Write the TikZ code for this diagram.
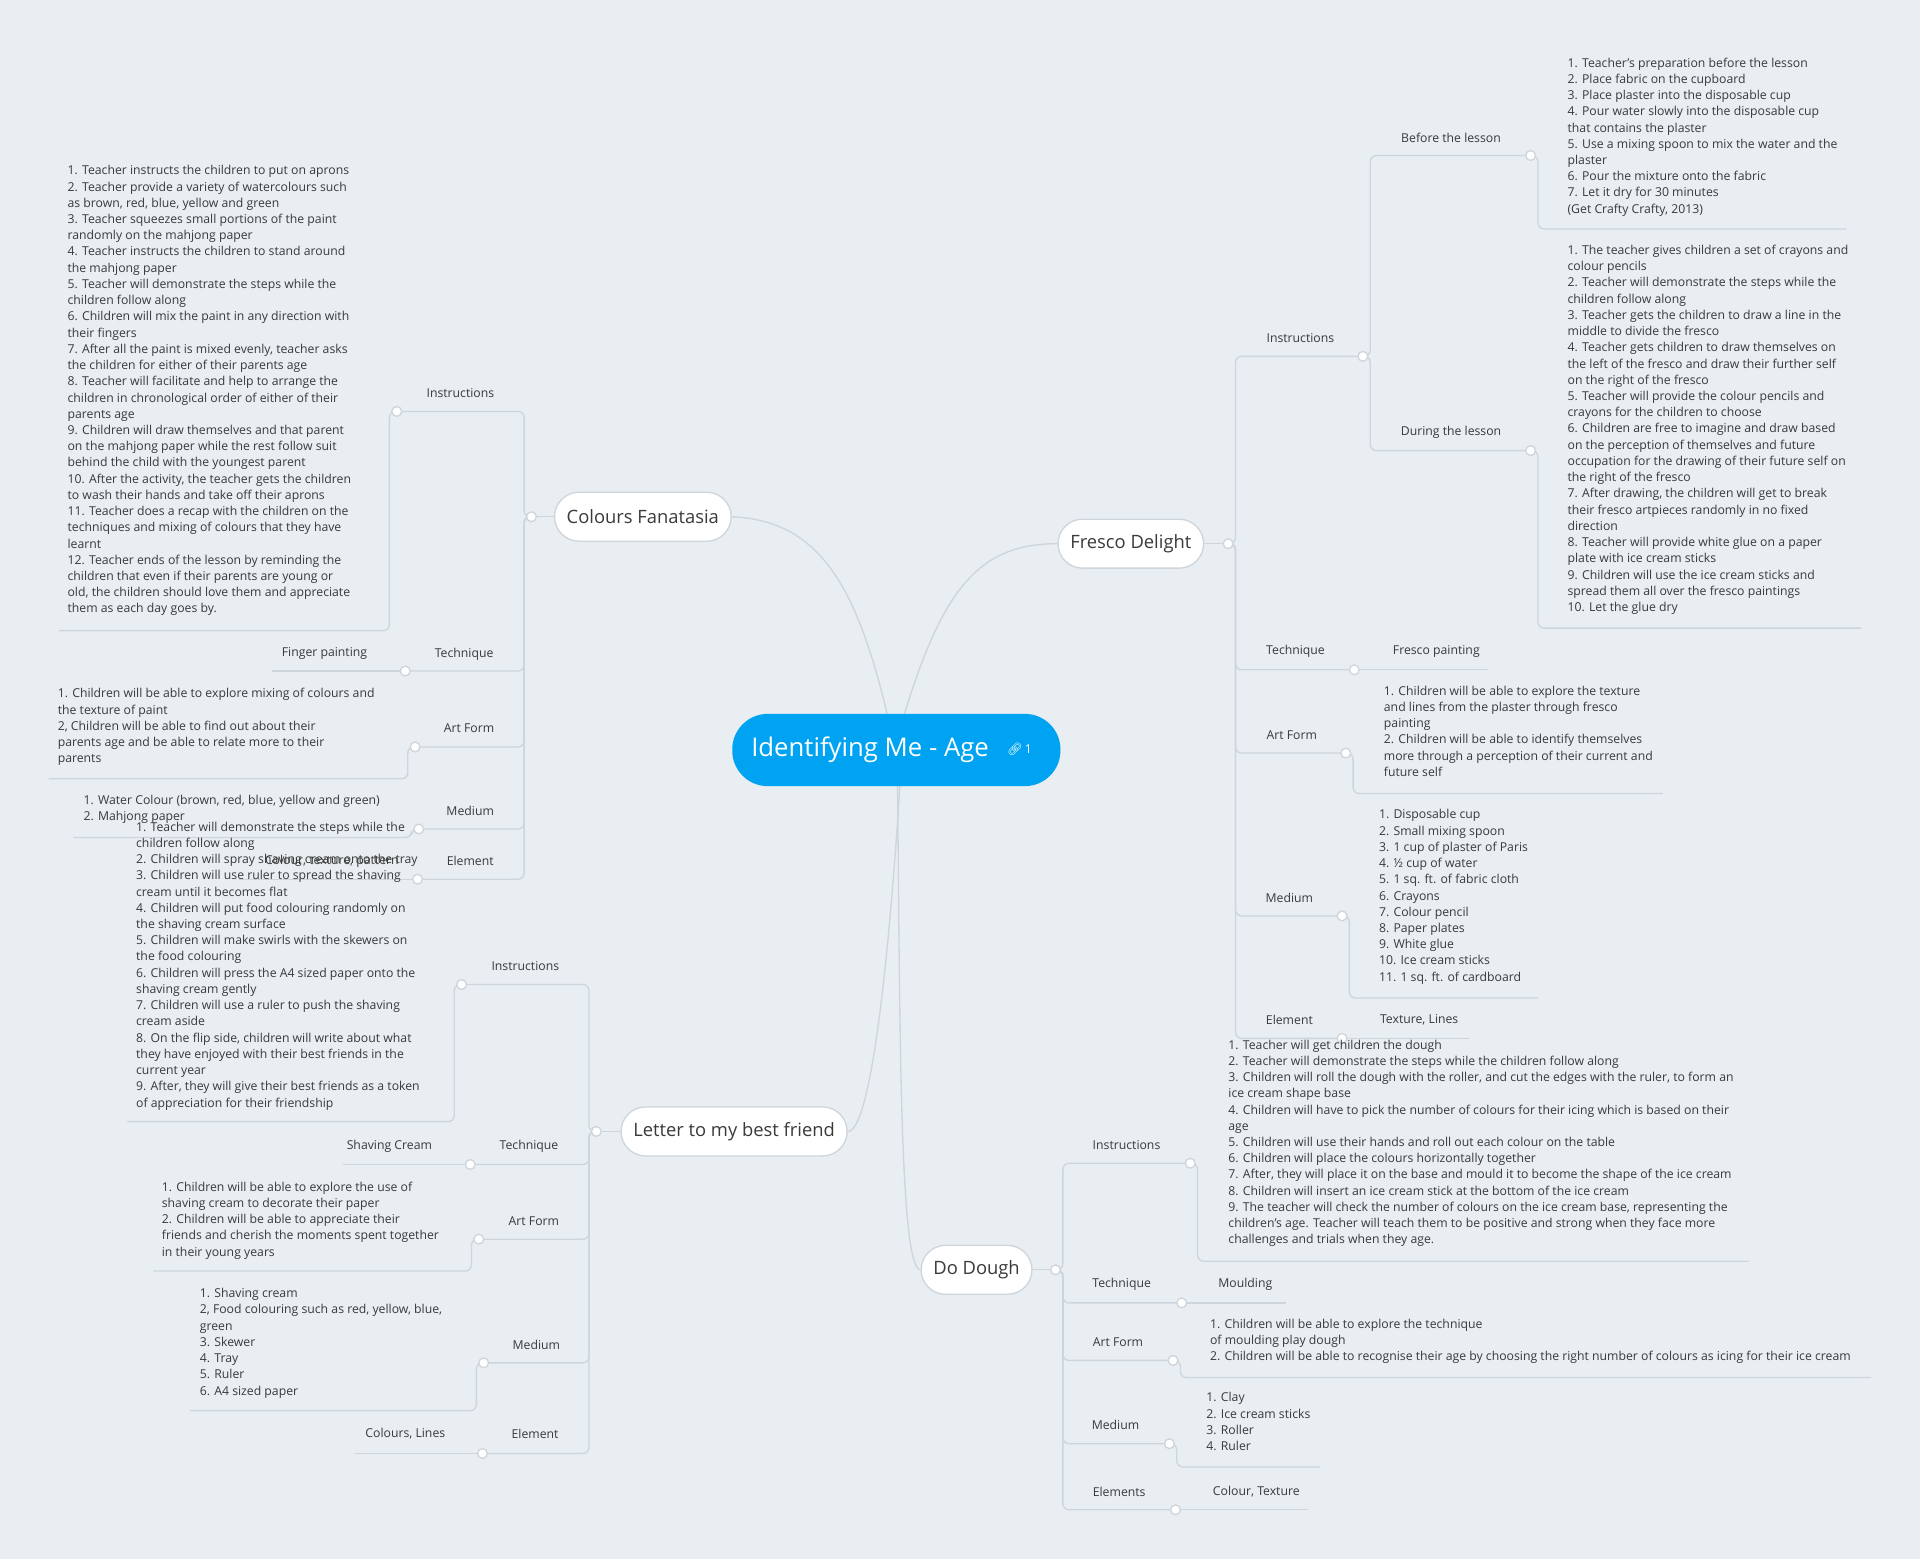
\documentclass[tikz,border=0pt]{standalone}
\usepackage{fontspec}
\setmainfont{Open Sans}
\newfontfamily\emo{Noto Emoji}
\definecolor{bg}{HTML}{E8EEF2}
\definecolor{lnc}{HTML}{CFD6DB}
\definecolor{txt}{HTML}{3A3A3A}
\definecolor{blu}{HTML}{00A3F2}
\newcommand\leaf[3]{\node[leaftxt,anchor=north west] at (#1,#2) {#3};}
\newcommand\lab[3]{\node[labtxt] at (#1,#2) {#3};}
\newcommand\lnk[5]{\draw[ln,rounded corners=5] (#1,#2) -- (#3,#2) -- (#3,#4) -- (#5,#4);}
\newcommand\dotat[2]{\node[jdot] at (#1,#2) {};}
\tikzset{x=1pt,y=-1pt,
 ln/.style={draw=lnc,line width=1.1pt},
 leaftxt/.style={inner sep=0pt,align=left,text=txt,font=\fontsize{10}{13.25}\selectfont},
 labtxt/.style={inner sep=0pt,text=txt,font=\fontsize{10}{11}\selectfont},
 jdot/.style={circle,draw=lnc,fill=white,line width=1.1pt,minimum size=8pt,inner sep=0pt},
 mainbox/.style={rounded corners=20pt,draw=lnc,fill=white,line width=1.1pt,text=txt,font=\fontsize{15}{17}\selectfont,minimum height=40pt,inner xsep=10pt}}
\begin{document}
\begin{tikzpicture}
\fill[bg] (0,0) rectangle (1568,1273);
\useasboundingbox (0,0) rectangle (1568,1273);
% main branches
\node[mainbox] (cf) at (525,422) {Colours Fanatasia};
\node[mainbox] (fd) at (923.5,444) {Fresco Delight};
\node[mainbox] (lb) at (599.5,924) {Letter to my best friend};
\node[mainbox] (dd) at (797.5,1037) {Do Dough};
\draw[ln] (725,585) .. controls (700,480) and (670,425) .. (cf.east);
\draw[ln] (738,585) .. controls (770,480) and (800,444) .. (fd.west);
\draw[ln] (735,640) .. controls (725,800) and (710,924) .. (lb.east);
\draw[ln] (733,640) .. controls (735,850) and (735,1037) .. (dd.west);
\node[rounded corners=29pt,fill=blu,minimum width=268pt,minimum height=59pt] (ctr) at (732,612.5) {};
\node[text=white,font=\fontsize{21}{24}\selectfont,anchor=west] (ct) at (610,612) {Identifying Me - Age};
\node[text=white,font=\fontsize{10}{12}\selectfont,anchor=west] (ci) at (819,612) {{\emo 🔗}\,1};
%%%%% Colours Fanatasia
\lnk{434}{422}{428}{336}{324}
\lnk{434}{422}{428}{548}{331}
\lnk{434}{422}{428}{610}{339}
\lnk{434}{422}{428}{677}{342}
\lnk{434}{422}{428}{718}{341}
\draw[ln] (cf.west) -- (434,422);
\lnk{324}{336}{318}{515}{48}
\draw[ln] (331,548) -- (222,548);
\lnk{339}{610}{333}{636}{40}
\lnk{342}{677}{336}{684}{60}
\draw[ln] (341,718) -- (195,718);
\lab{376}{321}{Instructions}
\lab{379}{534}{Technique}
\lab{383}{595}{Art Form}
\lab{384}{662}{Medium}
\lab{384}{703}{Element}
\leaf{55}{135}{1. Teacher instructs the children to put on aprons\\2. Teacher provide a variety of watercolours such\\as brown, red, blue, yellow and green\\3. Teacher squeezes small portions of the paint\\randomly on the mahjong paper\\4. Teacher instructs the children to stand around\\the mahjong paper\\5. Teacher will demonstrate the steps while the\\children follow along\\6. Children will mix the paint in any direction with\\their fingers\\7. After all the paint is mixed evenly, teacher asks\\the children for either of their parents age\\8. Teacher will facilitate and help to arrange the\\children in chronological order of either of their\\parents age\\9. Children will draw themselves and that parent\\on the mahjong paper while the rest follow suit\\behind the child with the youngest parent\\10. After the activity, the teacher gets the children\\to wash their hands and take off their aprons\\11. Teacher does a recap with the children on the\\techniques and mixing of colours that they have\\learnt\\12. Teacher ends of the lesson by reminding the\\children that even if their parents are young or\\old, the children should love them and appreciate\\them as each day goes by.}
\node[labtxt] at (265,534) {Finger painting};
\leaf{47}{562}{1. Children will be able to explore mixing of colours and\\the texture of paint\\2, Children will be able to find out about their\\parents age and be able to relate more to their\\parents}
\leaf{68}{649}{1. Water Colour (brown, red, blue, yellow and green)\\2. Mahjong paper}
\node[labtxt] at (271,703) {Colour, texture, pattern};
\dotat{434}{422}\dotat{324}{336}\dotat{331}{548}\dotat{339}{610}\dotat{342}{677}\dotat{341}{718}
%%%%% Fresco Delight
\draw[ln] (fd.east) -- (1003,444);
\lnk{1003}{444}{1009}{291}{1113}
\lnk{1003}{444}{1009}{547}{1106}
\lnk{1003}{444}{1009}{615}{1099}
\lnk{1003}{444}{1009}{748}{1096}
\lnk{1003}{444}{1009}{848}{1096}
\lnk{1113}{291}{1119}{127}{1250}
\lnk{1113}{291}{1119}{368}{1250}
\lnk{1250}{127}{1256}{187}{1508}
\lnk{1250}{368}{1256}{513}{1520}
\draw[ln] (1106,547) -- (1215,547);
\lnk{1099}{615}{1105}{648}{1358}
\lnk{1096}{748}{1102}{815}{1256}
\draw[ln] (1096,848) -- (1200,848);
\lab{1062}{276}{Instructions}
\lab{1185}{113}{Before the lesson}
\lab{1185}{353}{During the lesson}
\lab{1058}{532}{Technique}
\lab{1055}{600}{Art Form}
\lab{1053}{733}{Medium}
\lab{1053}{833}{Element}
\leaf{1280}{47}{1. Teacher's preparation before the lesson\\2. Place fabric on the cupboard\\3. Place plaster into the disposable cup\\4. Pour water slowly into the disposable cup\\that contains the plaster\\5. Use a mixing spoon to mix the water and the\\plaster\\6. Pour the mixture onto the fabric\\7. Let it dry for 30 minutes\\(Get Crafty Crafty, 2013)}
\leaf{1280}{200}{1. The teacher gives children a set of crayons and\\colour pencils\\2. Teacher will demonstrate the steps while the\\children follow along\\3. Teacher gets the children to draw a line in the\\middle to divide the fresco\\4. Teacher gets children to draw themselves on\\the left of the fresco and draw their further self\\on the right of the fresco\\5. Teacher will provide the colour pencils and\\crayons for the children to choose\\6. Children are free to imagine and draw based\\on the perception of themselves and future\\occupation for the drawing of their future self on\\the right of the fresco\\7. After drawing, the children will get to break\\their fresco artpieces randomly in no fixed\\direction\\8. Teacher will provide white glue on a paper\\plate with ice cream sticks\\9. Children will use the ice cream sticks and\\spread them all over the fresco paintings\\10. Let the glue dry}
\lab{1173}{532}{Fresco painting}
\leaf{1130}{560}{1. Children will be able to explore the texture\\and lines from the plaster through fresco\\painting\\2. Children will be able to identify themselves\\more through a perception of their current and\\future self}
\leaf{1126}{661}{1. Disposable cup\\2. Small mixing spoon\\3. 1 cup of plaster of Paris\\4. ½ cup of water\\5. 1 sq. ft. of fabric cloth\\6. Crayons\\7. Colour pencil\\8. Paper plates\\9. White glue\\10. Ice cream sticks\\11. 1 sq. ft. of cardboard}
\lab{1159}{833}{Texture, Lines}
\dotat{1003}{444}\dotat{1113}{291}\dotat{1250}{127}\dotat{1250}{368}\dotat{1106}{547}\dotat{1099}{615}\dotat{1096}{748}\dotat{1096}{848}
%%%%% Letter to my best friend
\draw[ln] (lb.west) -- (487,924);
\lnk{487}{924}{481}{804}{377}
\lnk{487}{924}{481}{951}{384}
\lnk{487}{924}{481}{1012}{391}
\lnk{487}{924}{481}{1113}{395}
\lnk{487}{924}{481}{1187}{394}
\lnk{377}{804}{371}{916}{104}
\draw[ln] (384,951) -- (280,951);
\lnk{391}{1012}{385}{1038}{125}
\lnk{395}{1113}{389}{1152}{155}
\draw[ln] (394,1187) -- (290,1187);
\lab{429}{789}{Instructions}
\lab{432}{936}{Technique}
\lab{436}{997}{Art Form}
\lab{438}{1098}{Medium}
\lab{437}{1171}{Element}
\leaf{111}{671}{1. Teacher will demonstrate the steps while the\\children follow along\\2. Children will spray shaving cream onto the tray\\3. Children will use ruler to spread the shaving\\cream until it becomes flat\\4. Children will put food colouring randomly on\\the shaving cream surface\\5. Children will make swirls with the skewers on\\the food colouring\\6. Children will press the A4 sized paper onto the\\shaving cream gently\\7. Children will use a ruler to push the shaving\\cream aside\\8. On the flip side, children will write about what\\they have enjoyed with their best friends in the\\current year\\9. After, they will give their best friends as a token\\of appreciation for their friendship}
\lab{318}{936}{Shaving Cream}
\leaf{132}{965}{1. Children will be able to explore the use of\\shaving cream to decorate their paper\\2. Children will be able to appreciate their\\friends and cherish the moments spent together\\in their young years}
\leaf{163}{1052}{1. Shaving cream\\2, Food colouring such as red, yellow, blue,\\green\\3. Skewer\\4. Tray\\5. Ruler\\6. A4 sized paper}
\lab{331}{1171}{Colours, Lines}
\dotat{487}{924}\dotat{377}{804}\dotat{384}{951}\dotat{391}{1012}\dotat{395}{1113}\dotat{394}{1187}
%%%%% Do Dough
\draw[ln] (dd.east) -- (862,1037);
\lnk{862}{1037}{868}{950}{972}
\lnk{862}{1037}{868}{1064}{965}
\lnk{862}{1037}{868}{1111}{958}
\lnk{862}{1037}{868}{1179}{955}
\lnk{862}{1037}{868}{1233}{960}
\lnk{972}{950}{978}{1030}{1428}
\draw[ln] (965,1064) -- (1050,1064);
\lnk{958}{1111}{964}{1125}{1528}
\lnk{955}{1179}{961}{1198}{1078}
\draw[ln] (960,1233) -- (1068,1233);
\lab{920}{935}{Instructions}
\lab{916}{1049}{Technique}
\lab{913}{1096}{Art Form}
\lab{911}{1164}{Medium}
\lab{914}{1218}{Elements}
\leaf{1003}{849}{1. Teacher will get children the dough\\2. Teacher will demonstrate the steps while the children follow along\\3. Children will roll the dough with the roller, and cut the edges with the ruler, to form an\\ice cream shape base\\4. Children will have to pick the number of colours for their icing which is based on their\\age\\5. Children will use their hands and roll out each colour on the table\\6. Children will place the colours horizontally together\\7. After, they will place it on the base and mould it to become the shape of the ice cream\\8. Children will insert an ice cream stick at the bottom of the ice cream\\9. The teacher will check the number of colours on the ice cream base, representing the\\children's age. Teacher will teach them to be positive and strong when they face more\\challenges and trials when they age.}
\lab{1017}{1049}{Moulding}
\leaf{988}{1077}{1. Children will be able to explore the technique\\of moulding play dough\\2. Children will be able to recognise their age by choosing the right number of colours as icing for their ice cream}
\leaf{985}{1137}{1. Clay\\2. Ice cream sticks\\3. Roller\\4. Ruler}
\lab{1026}{1218}{Colour, Texture}
\dotat{862}{1037}\dotat{972}{950}\dotat{965}{1064}\dotat{958}{1111}\dotat{955}{1179}\dotat{960}{1233}
\end{tikzpicture}
\end{document}
